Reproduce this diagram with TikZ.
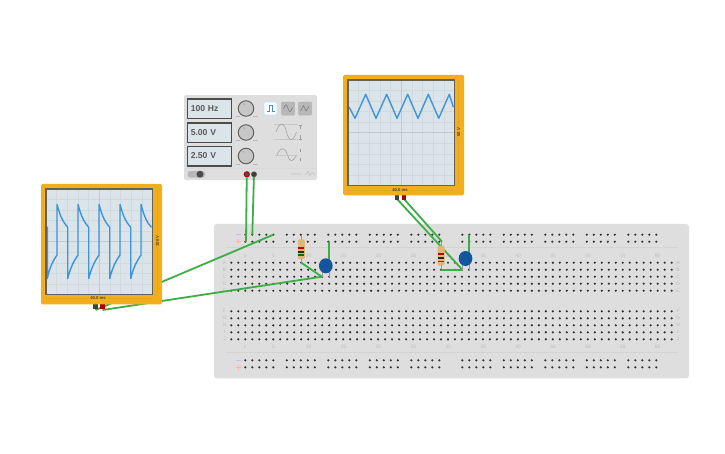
\documentclass[tikz,border=0pt]{standalone}
\usepackage{fontspec}
\usetikzlibrary{shapes.geometric}
\setmainfont{Liberation Sans}
\definecolor{boardc}{HTML}{DEDEDE}
\definecolor{fgc}{HTML}{DEDEDE}
\definecolor{orangec}{HTML}{F2AE1C}
\definecolor{orangel}{HTML}{E6A61C}
\definecolor{screenc}{HTML}{DBE5E9}
\definecolor{gridc}{HTML}{D0DADC}
\definecolor{gridd}{HTML}{C0CACA}
\definecolor{wirec}{HTML}{3DAE45}
\definecolor{tracec}{HTML}{3F94DC}
\definecolor{holec}{HTML}{303030}
\definecolor{labelc}{HTML}{BABABA}
\definecolor{capc}{HTML}{14569C}
\definecolor{resc}{HTML}{DDB878}
\tikzset{
  wire/.style={draw=wirec,line width=1.8pt},
  trace/.style={draw=tracec,line width=1.4pt,line join=round},
  hole/.style={fill=holec,draw=none},
  scopebody/.style={fill=orangec,draw=none,rounded corners=1.5pt},
  screen/.style={draw=black!62,line width=1.5pt},
  display/.style={draw=black!70,line width=1.5pt,fill=screenc,minimum width=44pt,minimum height=19.5pt,inner sep=0pt,font=\bfseries\fontsize{8.6}{9}\selectfont,text=black!65,text width=37.5pt,align=left},
  knob/.style={circle,draw=black!62,line width=1pt,fill=black!22,minimum size=15.5pt,inner sep=0pt},
  boardlabel/.style={font=\fontsize{4.8}{5}\selectfont,text=labelc,inner sep=0pt},
  tiny/.style={text=black!75,inner sep=0pt,font=\bfseries\fontsize{4.2}{4.5}\selectfont},
  wavebtn/.style={draw=black!30,line width=.5pt,fill=black!28,rounded corners=1pt,minimum size=13pt,inner sep=0pt},
  termred/.style={circle,fill=black!65,draw=red!70!black,line width=1.1pt,minimum size=5pt,inner sep=0pt},
  termblk/.style={circle,fill=black!75,draw=black!60,line width=.8pt,minimum size=5pt,inner sep=0pt},
  capbody/.style={ellipse,fill=capc,draw=none,minimum width=13.7pt,minimum height=15pt,inner sep=0pt},
  resbody/.style={fill=resc,draw=none,rounded corners=2pt,minimum width=7pt,minimum height=20pt,inner sep=0pt},
  leg/.style={draw=black!40,line width=1pt},
  pict/.style={draw=black!38,line width=.55pt},
  pictl/.style={draw=black!22,line width=.5pt},
}
\newcommand{\scopegrid}[2]{%
  \begin{scope}[shift={(#1,#2)}]
    \foreach \i in {1,...,9}{
      \draw[gridc,line width=.7pt] (\i*10.65,0) -- (\i*10.65,105.5);
      \draw[gridc,line width=.7pt] (0,\i*10.55) -- (106.5,\i*10.55);
    }
    \draw[gridd,line width=.8pt] (53.25,0) -- (53.25,105.5);
    \draw[gridd,line width=.8pt] (0,52.75) -- (106.5,52.75);
  \end{scope}
}
\begin{document}
\begin{tikzpicture}[x=1pt,y=-1pt]
\useasboundingbox (0,0) rectangle (725,453);
\fill[white] (0,0) rectangle (725,453);

% breadboard
\node[fill=boardc,draw=none,rounded corners=3pt,minimum width=475pt,minimum height=154.5pt,inner sep=0pt] (board) at (451.5,301.2) {};
\draw[black!17,line width=.5pt] (226,247.5) -- (678,247.5) (226,352.5) -- (678,352.5);
\foreach \c in {0,...,63}{
  \foreach \r in {262.7,269.7,276.7,283.7,290.7,311.3,318.3,325.3,332.3,339.3}{
    \fill[hole] (231.3+\c*6.99,\r) circle (1.2pt);
  }
}
\foreach \g in {245.3,286.8,328.3,369.8,411.3,462.3,503.8,545.3,586.8,628.3}{
  \foreach \k in {0,...,4}{
    \foreach \r in {234.7,241.7,360.3,367.3}{
      \fill[hole] (\g+\k*7,\r) circle (1.2pt);
    }
  }
}
\foreach \n/\x in {1/245,5/273.5,10/308.6,15/343.4,20/378.4,25/413.4,30/448.4,35/483.3,40/518.2,45/553.1,50/588,55/622.8,60/657.5}{
  \node[boardlabel] at (\x,256) {\n};
  \node[boardlabel] at (\x,347) {\n};
}
\foreach \l/\y in {A/262.7,B/269.7,C/276.7,D/283.7,E/290.7,F/311.3,G/318.3,H/325.3,I/332.3,J/339.3}{
  \node[boardlabel] at (224.5,\y) {\l};
  \node[boardlabel] at (678,\y) {\l};
}
\draw[blue!25,line width=.9pt] (236,234.7) -- (240.6,234.7) (236,360.3) -- (240.6,360.3);
\draw[red!30,line width=.9pt] (236,241.7) -- (240.6,241.7) (238.3,239.4) -- (238.3,244)
  (236,367.3) -- (240.6,367.3) (238.3,365) -- (238.3,369.6);

% named board holes and wire ends
\coordinate (railA) at (246,241.7);
\coordinate (railB) at (252.3,234.7);
\coordinate (railC) at (273.3,234.7);
\coordinate (railD) at (329.3,241.7);
\coordinate (railE) at (442,241.7);
\coordinate (railF) at (469.3,234.7);
\coordinate (holeA) at (321.8,276.7);
\coordinate (holeB) at (301.3,262.7);
\coordinate (holeC) at (441,269.7);
\coordinate (holeD) at (462.3,269.7);
\coordinate (capA) at (329.3,262);
\coordinate (capB) at (469.3,256);
\coordinate (s1nend) at (95.5,310);
\coordinate (s1pend) at (102.5,310);
\coordinate (s2nend) at (397,199);
\coordinate (s2pend) at (404,199);

% function generator
\node[fill=fgc,draw=none,rounded corners=2pt,minimum width=133pt,minimum height=85pt,inner sep=0pt] (fg) at (250.5,137.5) {};
\draw[black!15,line width=.5pt] (184,168.5) -- (317,168.5);
\node[display] (d1) at (209.5,108.5) {100 Hz};
\node[display] (d2) at (209.5,132.7) {5.00 V};
\node[display] (d3) at (209.5,156) {2.50 V};
\node[knob] (k1) at (246,108.5) {};
\node[knob] (k2) at (246,132.5) {};
\node[knob] (k3) at (246,156) {};
\foreach \y/\m in {108.5/k1,132.5/k2,156/k3}{
  \draw[black!40,line width=.4pt] (243,\y-5) -- (245,\y-3.5);
  \draw[black!28,line width=.6pt] (235.5,\y+8.2) -- (239.5,\y+8.2) (253,\y+8.2) -- (257.5,\y+8.2);
}
\node[wavebtn,draw=cyan!30,fill=white,line width=.9pt] (w1) at (270.5,108.5) {};
\node[wavebtn] (w2) at (288,108.5) {};
\node[wavebtn] (w3) at (305,108.5) {};
\draw[tracec,line width=.8pt] (266.5,111.5) -- (269,111.5) -- (269,105.5) -- (272,105.5) -- (272,111.5) -- (274.5,111.5);
\draw[black!50,line width=.6pt] (283.5,109) .. controls (285.5,103) and (286.5,104) .. (288,108.5) .. controls (289.5,113) and (290.5,113) .. (292.5,107.5);
\draw[black!50,line width=.6pt] (300.5,111) -- (303.5,105.5) -- (306,111) -- (309,106);
% wave pictograms
\draw[pictl] (274,124.5) -- (298,124.5) (274,139) -- (298,139);
\draw[pict] (276,132) .. controls (280,121) and (284,122) .. (286.5,132) .. controls (289,142) and (293,142) .. (296.5,132);
\draw[pict] (300,125) -- (300,129) (300,135) -- (300,139);
\draw[pict] (298.5,125) -- (301.5,125) (298.5,139) -- (301.5,139);
\draw[pict] (277,155) .. controls (281,146) and (285,147) .. (287.5,155) .. controls (290,163) and (293,162) .. (296.5,155);
\draw[pictl] (275,155) -- (296,155);
\draw[black!40,line width=.8pt] (300,149) -- (300,152) (300,158) -- (300,161);
% slider
\fill[black!28,rounded corners=2.8pt] (187.5,171) rectangle (205,177.5);
\node[circle,fill=black!70,minimum size=7pt,inner sep=0pt] (sw) at (200,174.2) {};
\node[font=\fontsize{3}{3}\selectfont,text=black!50,inner sep=0pt] at (192,174.2) {--};
\draw[black!17,line width=1.8pt,dash pattern=on 2.5pt off .6pt] (291,174.2) -- (302,174.2);
\draw[black!25,line width=.5pt] (305,175) -- (308,171.5) -- (310,175.5) -- (312,172.5) -- (315,175);

% wires, under the oscilloscopes
\node[termred] (fgp) at (246.8,174.3) {};
\node[termblk] (fgn) at (254,174.3) {};
\draw[wire] (fgp) -- (railA);
\draw[wire] (fgn) -- (railB);
\draw[leg] (holeB) -- (301.3,234.7);
\draw[leg] (holeC) -- (441,241.7);
\draw[wire] (s1nend) -- (railC);
\draw[wire] (s1pend) -- (holeA);
\draw[wire] (holeB) -- (holeA);
\draw[wire] (railD) -- (capA);
\draw[wire] (s2nend) -- (holeD);
\draw[wire] (s2pend) -- (railE);
\draw[wire] (holeC) -- (holeD);
\draw[wire] (railF) -- (capB);
\fill[black!75] (fgn) circle (2.4pt);
\fill[black!70] (fgp) circle (1.8pt);

% scope left
\fill[black!75] (93.4,303) rectangle (97.6,308.5);
\fill[red!65!black] (100.4,303) rectangle (104.6,308.5);
\node[scopebody,minimum width=121pt,minimum height=120.5pt] (s1) at (101.5,244) {};
\draw[orangel,line width=.5pt] (47,298.5) -- (152,298.5) (157.5,190) -- (157.5,292);
\node[fill=screenc,minimum width=106.5pt,minimum height=105.5pt,inner sep=0pt,draw=none] (s1scr) at (99.25,241.75) {};
\scopegrid{46}{189}
\draw[trace] (47.3,226.7) -- (47.3,278.5)
  .. controls (50,266) and (53,261) .. (57,255) -- (57,204.3)
  .. controls (60,216) and (63,222) .. (67.7,227.3) -- (67.7,278.5)
  .. controls (71,266) and (74,261) .. (78,255) -- (78,204.3)
  .. controls (81,216) and (84,222) .. (88.7,227.3) -- (88.7,278.5)
  .. controls (92,266) and (95,261) .. (99,255) -- (99,204.3)
  .. controls (102,216) and (105,222) .. (109.7,227.3) -- (109.7,278.5)
  .. controls (113,266) and (116,261) .. (120,255) -- (120,204.3)
  .. controls (123,216) and (126,222) .. (130.7,227.3) -- (130.7,278.5)
  .. controls (134,266) and (137,261) .. (141,255) -- (141,204.3)
  .. controls (144,216) and (147,223) .. (151.5,227.3);
\draw[screen] (46,189) rectangle (152.5,294.5);
\node[tiny,fill=orangec,inner xsep=1pt] (s1t) at (98,298.5) {40.0 ms};
\node[tiny,rotate=90,fill=orangec,inner xsep=1pt] (s1v) at (157.5,241) {100 V};

% scope top
\fill[black!75] (394.9,194) rectangle (399.1,199.5);
\fill[red!65!black] (401.9,194) rectangle (406.1,199.5);
\node[scopebody,minimum width=121pt,minimum height=120.5pt] (s2) at (403.5,135) {};
\draw[orangel,line width=.5pt] (348,190) -- (454,190) (458.5,81) -- (458.5,184);
\node[fill=screenc,minimum width=106.5pt,minimum height=105.5pt,inner sep=0pt,draw=none] (s2scr) at (401.25,132.75) {};
\scopegrid{348}{80}
\draw[trace] (349,107) -- (355,118.3) -- (365.7,94.3) -- (376,118.3) -- (386.7,94.3) -- (397,118.3) -- (407.7,94.3) -- (418,118.3) -- (428.3,94.3) -- (438.7,118.3) -- (449.3,94.3) -- (453.3,107);
\draw[screen] (348,80) rectangle (454.5,185.5);
\node[tiny,fill=orangec,inner xsep=1pt] (s2t) at (400,190.3) {40.0 ms};
\node[tiny,rotate=90,fill=orangec,inner xsep=1pt] (s2v) at (458.7,132.5) {50 V};

% resistors and capacitors
\node[resbody] (r1) at (301.3,249.3) {};
\fill[red!75!black] (298.3,246.7) rectangle (304.3,249);
\fill[black!85] (298.3,250.5) rectangle (304.3,252.5);
\fill[green!45!black] (298.3,254.3) rectangle (304.3,256);
\node[resbody] (r2) at (441,255.5) {};
\fill[red!75!black] (438,252.9) rectangle (444,255.2);
\fill[black!85] (438,256.7) rectangle (444,258.7);
\fill[green!45!black] (438,260.5) rectangle (444,262.2);

\draw[leg] (322.3,271) -- (322.3,276.7) (329.3,271) -- (329.3,276.7);
\draw[leg] (462.3,264) -- (462.3,269.7) (469.3,264) -- (469.3,269.7);
\node[capbody] (c1) at (325.8,265.8) {};
\node[capbody] (c2) at (465.5,258.5) {};
\end{tikzpicture}
\end{document}
